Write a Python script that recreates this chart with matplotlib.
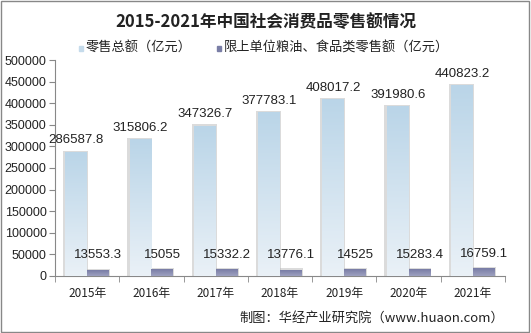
import numpy as np
import matplotlib.pyplot as plt
from matplotlib.patches import Rectangle

plt.rcParams['font.family'] = ['Noto Sans CJK SC', 'DejaVu Sans']

years = ['2015年', '2016年', '2017年', '2018年', '2019年', '2020年', '2021年']
total_sales = [286587.8, 315806.2, 347326.7, 377783.1, 408017.2, 391980.6, 440823.2]
food_sales = [13553.3, 15055, 15332.2, 13776.1, 14525, 15283.4, 16759.1]
total_labels = ['286587.8', '315806.2', '347326.7', '377783.1', '408017.2', '391980.6', '440823.2']
food_labels = ['13553.3', '15055', '15332.2', '13776.1', '14525', '15283.4', '16759.1']

fig = plt.figure(figsize=(5.31, 3.33), dpi=100)
ax = fig.add_axes([0.1036, 0.1715, 0.8475, 0.648])

x = np.arange(len(years))
w = 0.34
num_font = 'Liberation Sans'

def grad_bar(ax, xc, h, top_col, bot_col):
    # vertical gradient inside the bar
    grad = np.linspace(0, 1, 100).reshape(-1, 1)
    top = np.array(plt.matplotlib.colors.to_rgb(top_col))
    bot = np.array(plt.matplotlib.colors.to_rgb(bot_col))
    img = bot + (top - bot) * grad
    img = img.reshape(100, 1, 3)
    ax.imshow(img, extent=[xc - w / 2, xc + w / 2, 0, h], origin='lower',
              aspect='auto', zorder=3, interpolation='bilinear')
    # soft shadow
    ax.add_patch(Rectangle((xc - w / 2 - 0.035, 0), w + 0.05, h + 3500,
                           color='#b0b0b0', alpha=0.45, zorder=2, lw=0))

for i in range(len(years)):
    xl = x[i] - w / 2
    xr = x[i] + w / 2
    grad_bar(ax, xl, total_sales[i], '#bad5e8', '#eaf1f7')
    grad_bar(ax, xr, food_sales[i], '#787ca5', '#9ea1c0')
    ax.text(xl, total_sales[i] + 14000, total_labels[i], ha='center', va='bottom',
            fontsize=9.5, color='#222222', family=num_font)
    ax.text(xr, food_sales[i] + 20000, food_labels[i], ha='center', va='bottom',
            fontsize=9.5, color='#222222', family=num_font)

ax.set_xlim(-0.5, len(years) - 0.5)
ax.set_ylim(0, 500000)
ax.set_yticks(np.arange(0, 500001, 50000))
ax.set_yticklabels([str(v) for v in range(0, 500001, 50000)], fontsize=9,
                   family=num_font, color='#222222')
ax.set_xticks(x)
ax.set_xticklabels(years, fontsize=8.5, color='#222222')
ax.set_xticks(np.arange(-0.5, len(years), 1), minor=True)
ax.tick_params(axis='x', which='major', length=0, pad=8)
ax.tick_params(axis='x', which='minor', length=4, color='#888888')
ax.tick_params(axis='y', length=4, color='#888888', pad=2)
for s in ['top', 'right']:
    ax.spines[s].set_visible(False)
ax.spines['left'].set_color('#888888')
ax.spines['bottom'].set_color('#888888')

fig.text(0.5, 0.935, '2015-2021年中国社会消费品零售额情况', ha='center', va='center',
         fontsize=12, fontweight='bold', color='#222222')

# legend
fig.patches.append(Rectangle((0.148, 0.848), 0.009, 0.014, color='#c5dbeb',
                             transform=fig.transFigure))
fig.text(0.162, 0.855, '零售总额（亿元）', ha='left', va='center', fontsize=9.5, color='#222222')
fig.patches.append(Rectangle((0.408, 0.848), 0.009, 0.014, color='#7a7ea6',
                             transform=fig.transFigure))
fig.text(0.422, 0.855, '限上单位粮油、食品类零售额（亿元）', ha='left', va='center',
         fontsize=9.5, color='#222222')

fig.text(0.95, 0.045, '制图：华经产业研究院（www.huaon.com）', ha='right', va='center',
         fontsize=9.5, color='#222222')

fig.patches.append(Rectangle((0.002, 0.003), 0.995, 0.993, fill=False, ec='#888888',
                             lw=1, transform=fig.transFigure))

fig.savefig('out.png', dpi=100)
